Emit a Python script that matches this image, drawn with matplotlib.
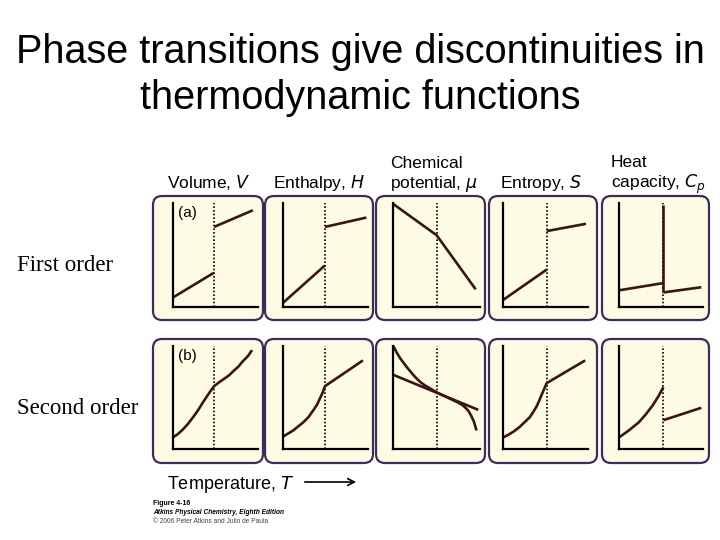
import numpy as np
import matplotlib.pyplot as plt
from matplotlib.patches import FancyBboxPatch, FancyArrowPatch

# column headers and where the phase transition sits on each T axis
headers = ['Volume, $V$', 'Enthalpy, $H$', 'Chemical\npotential, $\\mu$',
           'Entropy, $S$', 'Heat\ncapacity, $C_{p}$']
t_trans = [0.485, 0.494, 0.50, 0.518, 0.53]

# first order: lists of segments, each segment is [(T, value), ...]
vol_1 = [[(0, 0.09), (0.485, 0.33)], [(0.485, 0.77), (0.94, 0.93)]]
enth_1 = [[(0, 0.04), (0.494, 0.40)], [(0.494, 0.77), (0.98, 0.86)]]
mu_1 = [[(0, 0.99), (0.50, 0.69), (0.95, 0.17)]]
ent_1 = [[(0, 0.065), (0.518, 0.36)], [(0.518, 0.73), (0.98, 0.80)]]
cp_1 = [[(0, 0.16), (0.53, 0.23)], [(0.53, 0.14), (0.53, 0.98)],
        [(0.53, 0.14), (0.98, 0.19)]]

# second order
vol_2 = [[(0, 0.11), (0.06, 0.145), (0.12, 0.19), (0.18, 0.245), (0.24, 0.31),
          (0.30, 0.38), (0.36, 0.46), (0.42, 0.535), (0.485, 0.61),
          (0.54, 0.645), (0.60, 0.68), (0.66, 0.715), (0.71, 0.755),
          (0.77, 0.80), (0.82, 0.85), (0.88, 0.90), (0.93, 0.96)]]
enth_2 = [[(0, 0.12), (0.06, 0.15), (0.12, 0.18), (0.18, 0.22), (0.24, 0.26),
           (0.30, 0.31), (0.36, 0.38), (0.40, 0.43), (0.44, 0.50),
           (0.47, 0.555), (0.494, 0.61), (0.94, 0.86)]]
mu_2 = [[(0, 0.72), (0.98, 0.38)],
        [(0, 1.0), (0.04, 0.935), (0.08, 0.88), (0.12, 0.835), (0.16, 0.79),
         (0.20, 0.75), (0.24, 0.71), (0.28, 0.675), (0.32, 0.645),
         (0.36, 0.62), (0.41, 0.595), (0.45, 0.575), (0.50, 0.55),
         (0.55, 0.53), (0.60, 0.51), (0.65, 0.49), (0.70, 0.47),
         (0.75, 0.45), (0.80, 0.425), (0.84, 0.395), (0.87, 0.365),
         (0.90, 0.32), (0.93, 0.265), (0.96, 0.18)]]
ent_2 = [[(0, 0.11), (0.07, 0.14), (0.13, 0.17), (0.20, 0.215), (0.27, 0.27),
          (0.32, 0.31), (0.36, 0.36), (0.40, 0.415), (0.43, 0.47),
          (0.47, 0.55), (0.518, 0.64), (0.97, 0.86)]]
cp_2 = [[(0, 0.11), (0.06, 0.145), (0.12, 0.18), (0.18, 0.22), (0.24, 0.26),
         (0.32, 0.335), (0.40, 0.42), (0.47, 0.51), (0.53, 0.60)],
        [(0.53, 0.28), (0.98, 0.40)]]

rows = [[vol_1, enth_1, mu_1, ent_1, cp_1],
        [vol_2, enth_2, mu_2, ent_2, cp_2]]
row_names = ['First order', 'Second order']

W, H = 720, 540
fig = plt.figure(figsize=(7.2, 5.4), dpi=100)
fig.patch.set_facecolor('white')

# pixel layout (top-left origin)
box_x = [(153, 263), (265, 373), (376, 485), (489, 597), (602, 709)]
box_y = [(196, 320), (339, 463)]
ax_x = [(172.7, 258), (283, 368), (393.3, 480), (502.7, 587.7), (618.7, 703)]
ax_y = [(203, 307), (346, 449)]
row_label_y = [271, 414]

line_col = '#3b1414'
box_edge = '#3d2c5c'
box_fill = '#fdfbe4'

for r in range(2):
    for c in range(5):
        x0, x1 = box_x[c]
        y0, y1 = box_y[r]
        box = FancyBboxPatch((x0 / 100 + 0.04, (H - y1) / 100 + 0.04),
                             (x1 - x0) / 100 - 0.08, (y1 - y0) / 100 - 0.08,
                             boxstyle='round,pad=0.04,rounding_size=0.09',
                             transform=fig.dpi_scale_trans, fc=box_fill,
                             ec=box_edge, lw=1.6, zorder=-5)
        fig.patches.append(box)

        ax0, ax1 = ax_x[c]
        ay0, ay1 = ax_y[r]
        ax = fig.add_axes([ax0 / W, 1 - ay1 / H, (ax1 - ax0) / W, (ay1 - ay0) / H])
        ax.set_zorder(2)
        ax.set_facecolor('none')
        ax.set_xlim(0, 1)
        ax.set_ylim(0, 1)
        for s in ['top', 'right']:
            ax.spines[s].set_visible(False)
        for s in ['left', 'bottom']:
            ax.spines[s].set_linewidth(1.6)
            ax.spines[s].set_color('black')
        ax.set_xticks([])
        ax.set_yticks([])
        ax.axvline(t_trans[c], color='black', ls=(0, (1, 1.2)), lw=1.2)
        for seg in rows[r][c]:
            xs = [p[0] for p in seg]
            ys = [p[1] for p in seg]
            ax.plot(xs, ys, color=line_col, lw=1.9, solid_capstyle='butt',
                    solid_joinstyle='round', clip_on=False)
        if c == 0:
            ax.text(0.06, 0.90, '(a)' if r == 0 else '(b)', transform=ax.transAxes,
                    fontsize=11, family='Liberation Sans', va='center')

    fig.text(17 / W, 1 - row_label_y[r] / H, row_names[r], family='Liberation Serif',
             fontsize=16.5, va='baseline')

# column headers
head_x = [167, 273, 390, 500, 611]
for c in range(5):
    fig.text(head_x[c] / W, 1 - 188 / H, headers[c], family='Liberation Sans',
             fontsize=12.5, va='baseline', linespacing=1.2)

# title
fig.text(0.501, 1 - 63 / H, 'Phase transitions give discontinuities in',
         ha='center', va='baseline', family='Liberation Sans', fontsize=28.5)
fig.text(0.501, 1 - 109 / H, 'thermodynamic functions',
         ha='center', va='baseline', family='Liberation Sans', fontsize=28.5)

# temperature axis note
fig.text(167 / W, 1 - 489 / H, 'Temperature, $T$', family='Liberation Sans',
         fontsize=13, va='baseline')
fig.patches.append(FancyArrowPatch(
    (302 / W, 1 - 482 / H), (359 / W, 1 - 482 / H), transform=fig.transFigure,
    arrowstyle='->', mutation_scale=12, lw=1.2, color='black'))

# caption
fig.text(153 / W, 1 - 505 / H, 'Figure 4-16', family='Liberation Sans',
         fontsize=5, weight='bold', va='baseline')
fig.text(153 / W, 1 - 514 / H, 'Atkins Physical Chemistry, Eighth Edition',
         family='Liberation Sans', fontsize=4.8, weight='bold', style='italic',
         va='baseline')
fig.text(153 / W, 1 - 523 / H, '\u00a9 2006 Peter Atkins and Julio de Paula',
         family='Liberation Sans', fontsize=4.8, color='#444444', va='baseline')

fig.savefig('out.png', dpi=100)
